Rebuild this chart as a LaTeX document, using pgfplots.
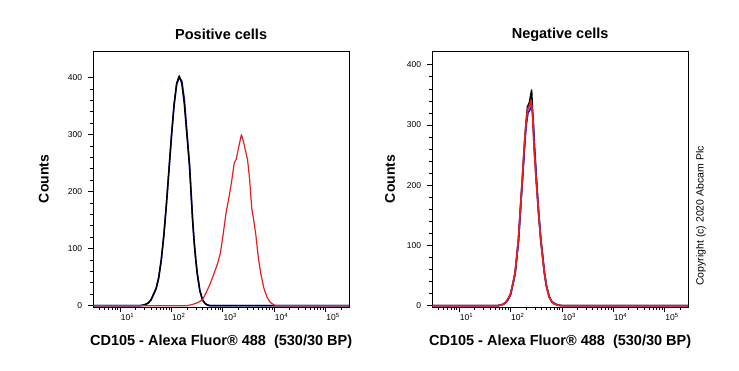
\documentclass[border=0pt]{standalone}
\usepackage{pgfplots}
\pgfplotsset{compat=1.18}
\usepackage{pgfplotstable}
\usepackage{fontspec}
\setmainfont{Liberation Sans}
\definecolor{fblue}{RGB}{20,20,230}
\definecolor{fred}{RGB}{232,30,30}

% left panel: L = log10(intensity), C = counts
\pgfplotstableread{
L C
0.48 0
1.30 0
1.40 0.3
1.45 1
1.50 2.5
1.55 5
1.60 10
1.65 20
1.70 30
1.75 49
1.80 80
1.85 123
1.90 177
1.95 238
2.00 299
2.05 353
2.10 390
2.15 403
2.20 390
2.25 353
2.30 299
2.35 245
2.38 198
2.41 150
2.44 112
2.47 82
2.50 57
2.55 27
2.60 11
2.65 4
2.70 1
2.76 0
5.46 0
}\posblack
\pgfplotstableread{
L C
0.48 0
1.30 0
1.40 0.3
1.45 1
1.50 2.5
1.55 5
1.60 10
1.65 20
1.70 30
1.75 49
1.80 80
1.85 123
1.90 177
1.95 238
2.00 299
2.05 352
2.10 388
2.15 400
2.20 394
2.25 362
2.30 305
2.35 248
2.38 200
2.41 152
2.44 113
2.47 83
2.50 57
2.55 27
2.60 11
2.65 4
2.70 1
2.76 0
5.46 0
}\posblue
\pgfplotstableread{
L C
0.48 0
2.30 0
2.40 2
2.50 5
2.60 10
2.67 22
2.75 38
2.83 57
2.90 75
2.95 92
3.00 122
3.06 162
3.12 191
3.17 218
3.22 250
3.26 257
3.30 275
3.36 300
3.40 288
3.44 272
3.48 256
3.52 222
3.56 172
3.60 150
3.64 125
3.69 84
3.74 55
3.80 30
3.86 15
3.92 6
4.00 1
4.05 0
5.46 0
}\posred
% right panel
\pgfplotstableread{
L C
0.48 0
1.75 0
1.85 2
1.90 5
1.95 10
2.00 18
2.05 38
2.09 54
2.155 109
2.20 170
2.23 209
2.27 264
2.30 300
2.33 330
2.37 338
2.41 358
2.43 320
2.46 264
2.50 210
2.55 150
2.59 109
2.63 78
2.66 54
2.70 32
2.75 15
2.80 7
2.85 4
2.92 1
3.00 0
5.46 0
}\negblack
\pgfplotstableread{
L C
0.48 0
1.75 0
1.85 2
1.90 5
1.95 10
2.00 19
2.05 37
2.09 54
2.155 108
2.20 168
2.23 206
2.27 260
2.30 296
2.34 320
2.38 326
2.41 332
2.44 312
2.47 262
2.51 205
2.55 152
2.59 110
2.63 79
2.66 55
2.70 33
2.75 16
2.80 7
2.85 3
2.92 1
3.00 0
5.46 0
}\negblue
\pgfplotstableread{
L C
0.48 0
1.75 0
1.85 2
1.90 5
1.95 11
2.00 20
2.05 38
2.09 56
2.155 112
2.20 172
2.23 212
2.27 268
2.30 302
2.33 326
2.37 332
2.40 342
2.43 318
2.46 262
2.50 208
2.55 150
2.59 108
2.63 76
2.66 54
2.70 32
2.75 15
2.80 7
2.85 3
2.92 1
3.00 0
5.46 0
}\negred

\pgfplotsset{
  flowax/.style={
    scale only axis,
    width=255.7pt, height=256pt,
    xmin=3, xmax=285000,
    xtick={10,100,1000,10000,100000},
    xticklabels={10\textsuperscript{1},10\textsuperscript{2},10\textsuperscript{3},10\textsuperscript{4},10\textsuperscript{5}},
    minor xtick={4,5,6,7,8,9,20,30,40,50,60,70,80,90,200,300,400,500,600,700,800,900,2000,3000,4000,5000,6000,7000,8000,9000,20000,30000,40000,50000,60000,70000,80000,90000,200000},
    ytick={0,100,200,300,400},
    minor y tick num=4,
    tick align=outside,
    major tick length=5pt,
    minor tick length=3pt,
    tick style={black, line width=0.8pt},
    axis line style={black, line width=0.7pt},
    xtick pos=bottom, ytick pos=left,
    /pgf/number format/assume math mode=true,
    yticklabel style={font=\fontsize{8.5}{9}\selectfont, inner sep=1pt, xshift=-5pt},
    xticklabel style={font=\fontsize{8.5}{9}\selectfont, anchor=north west, inner sep=0pt, xshift=0.5pt, yshift=-1pt},
    every axis title/.style={font=\fontsize{14.5}{16}\selectfont\bfseries, at={(0.5,1.0652)}, anchor=center},
    xlabel style={font=\fontsize{14.5}{16}\selectfont\bfseries, at={(axis description cs:0.5,-0.1367)}, anchor=center},
    ylabel style={font=\fontsize{14}{16}\selectfont\bfseries, anchor=center},
    xlabel={CD105 - Alexa Fluor\textregistered{} 488\ \ (530/30 BP)},
    ylabel={Counts},
    clip=true,
  }
}

\begin{document}
\begin{tikzpicture}
\useasboundingbox (0,0) rectangle (739pt,370pt);
\begin{semilogxaxis}[flowax, at={(93.3pt,63pt)}, anchor=south west,
  ymin=-2.3, ymax=446.7, title={Positive cells},
  ylabel style={at={(axis description cs:-0.1936,0.5)}}]
\addplot[fblue, line width=1.5pt, line join=round] table[x expr=10^\thisrow{L}, y=C] {\posblue};
\addplot[black, line width=1.5pt, line join=round] table[x expr=10^\thisrow{L}, y=C] {\posblack};
\addplot[fred, line width=1.2pt, line join=round] table[x expr=10^\thisrow{L}, y=C] {\posred};
\end{semilogxaxis}
\begin{semilogxaxis}[flowax, at={(432.3pt,63pt)}, anchor=south west,
  ymin=-2.2, ymax=423, title={Negative cells},
  ylabel style={at={(axis description cs:-0.1654,0.5)}}]
\addplot[black, line width=1.6pt, line join=round] table[x expr=10^\thisrow{L}, y=C] {\negblack};
\addplot[fblue, line width=1.6pt, line join=round] table[x expr=10^\thisrow{L}, y=C] {\negblue};
\addplot[fred, line width=1.7pt, line join=round] table[x expr=10^\thisrow{L}, y=C] {\negred};
\end{semilogxaxis}
\node[rotate=90, font=\fontsize{10.5}{12}\selectfont, anchor=center] at (701pt,154pt) {Copyright (c) 2020 Abcam Plc};
\end{tikzpicture}
\end{document}
